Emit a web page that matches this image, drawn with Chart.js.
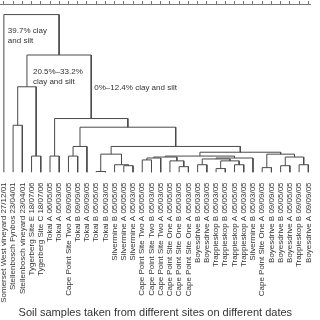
<!DOCTYPE html>
<html lang="en">
<head>
<meta charset="UTF-8">
<title>Soil sample dendrogram</title>
<script src="https://cdn.jsdelivr.net/npm/chart.js"></script>
<style>
  html, body { margin: 0; padding: 0; background: #fff; }
  #wrap { width: 320px; height: 320px; }
</style>
</head>
<body>
<div id="wrap"><canvas id="dendro"></canvas></div>
<script>
const leafLabels = [
  'Somerset West vineyard 27/12/01', 'Stellenbosch Fynbos 23/04/01', 'Stellenbosch vineyard 23/04/01',
  'Tygerberg Site E 18/07/06', 'Tygerberg Site C 18/07/06', 'Tokai A 06/05/05', 'Tokai A 05/03/05',
  'Cape Point Site Two A 09/09/05', 'Tokai B 09/09/05', 'Tokai A 09/09/05', 'Tokai B 05/05/05',
  'Tokai B 05/03/05', 'Silvermine B 05/05/05', 'Silvermine A 05/05/05', 'Silvermine A 05/03/05',
  'Cape Point Site Two A 05/05/05', 'Cape Point Site Two B 05/03/05', 'Cape Point Site Two A 05/03/05',
  'Cape Point Site One A 05/05/05', 'Cape Point Site One B 05/03/05', 'Cape Point Site One A 05/03/05',
  'Boyesdrive B 05/03/05', 'Boyesdrive A 05/03/05', 'Trappieskop B 05/03/05', 'Trappieskop B 05/05/05',
  'Trappieskop A 05/05/05', 'Trappieskop A 05/03/05', 'Silvermine B 05/03/05',
  'Cape Point Site One A 09/09/05', 'Boyesdrive B 09/09/05', 'Boyesdrive B 05/05/05',
  'Boyesdrive A 05/05/05', 'Trappieskop B 09/09/05', 'Boyesdrive A 09/09/05'
];

// [left, right, height]; leaves are 0..33, merge k becomes node 34 + k
const merges = [
  [10, 11, 0.2], [23, 24, 0.8], [28, 29, 1.0], [19, 20, 1.2], [13, 14, 1.4],
  [30, 31, 1.4], [12, 38, 1.6], [21, 22, 1.6], [25, 26, 1.6], [32, 33, 1.6],
  [18, 37, 2.4], [35, 42, 2.4], [15, 16, 2.6], [41, 45, 2.8], [46, 17, 3.0],
  [47, 27, 3.0], [48, 44, 3.2], [39, 43, 3.2], [3, 4, 3.4], [5, 6, 3.4],
  [7, 8, 3.4], [50, 49, 3.4], [34, 40, 3.8], [36, 51, 3.8], [55, 57, 4.2],
  [54, 9, 5.4], [56, 58, 5.4], [59, 60, 9.4], [1, 2, 9.8], [53, 61, 11.2],
  [62, 52, 17.8], [64, 63, 24.4], [0, 65, 32.8]
];

const noteRoot = ['39.7% clay', 'and silt'];
const noteMid = ['20.5%\u201333.2%', 'clay and silt'];
const noteLow = ['0%\u201312.4% clay and silt'];
const axisTitle = 'Soil samples taken from different sites on different dates';

const lineColor = '#4a4a4a';
const textColor = '#333';
const fontFamily = 'Liberation Sans, Arial, sans-serif';

// work out node positions from the linkage
const nodeX = leafLabels.map((_, i) => i);
const nodeY = leafLabels.map(() => 0);
const kids = [];
const links = merges.map(([a, b, h]) => {
  kids.push([a, b]);
  const pts = [
    { x: nodeX[a], y: nodeY[a] }, { x: nodeX[a], y: h },
    { x: nodeX[b], y: h }, { x: nodeX[b], y: nodeY[b] }
  ];
  nodeX.push((nodeX[a] + nodeX[b]) / 2);
  nodeY.push(h);
  return pts;
});

const datasets = links.map(pts => ({
  data: pts,
  showLine: true,
  borderColor: lineColor,
  borderWidth: 1,
  pointRadius: 0,
  pointHoverRadius: 0,
  tension: 0
}));

const leafTicks = scale => { scale.ticks = leafLabels.map((_, i) => ({ value: i })); };
const xMin = -0.42, xMax = 33.26;

const notes = {
  id: 'notes',
  afterDatasetsDraw(chart) {
    const { ctx, scales: { x, y } } = chart;
    const nLeaf = leafLabels.length;
    const root = nLeaf + merges.length - 1;
    const mid = kids[root - nLeaf][1];
    const place = (lines, node, side, dx, dy) => {
      const px = x.getPixelForValue(nodeX[kids[node - nLeaf][side]]) + dx;
      const py = y.getPixelForValue(nodeY[node]) + dy;
      lines.forEach((t, i) => ctx.fillText(t, px, py + i * 10));
    };
    ctx.save();
    ctx.fillStyle = textColor;
    ctx.font = '8px ' + fontFamily;
    ctx.textBaseline = 'middle';
    place(noteRoot, root, 0, 4, 16);
    place(noteMid, mid, 0, 6, 17);
    place(noteLow, mid, 1, 3, 33);
    ctx.restore();
  }
};

new Chart(document.getElementById('dendro'), {
  type: 'scatter',
  data: { datasets },
  options: {
    responsive: true,
    maintainAspectRatio: false,
    animation: false,
    layout: { padding: { top: 1, left: 0, right: 0, bottom: 0 } },
    plugins: { legend: { display: false }, tooltip: { enabled: false } },
    scales: {
      x: {
        type: 'linear',
        position: 'bottom',
        min: xMin,
        max: xMax,
        afterBuildTicks: leafTicks,
        grid: { display: false },
        border: { display: false },
        ticks: {
          autoSkip: false,
          maxRotation: 90,
          minRotation: 90,
          padding: 2,
          color: textColor,
          font: { size: 8, family: fontFamily },
          callback: v => leafLabels[v]
        },
        title: {
          display: true,
          text: axisTitle,
          color: textColor,
          font: { size: 11, family: fontFamily },
          padding: { top: 2, bottom: 0 }
        }
      },
      xTop: {
        type: 'linear',
        position: 'top',
        min: xMin,
        max: xMax,
        afterBuildTicks: leafTicks,
        grid: { drawOnChartArea: false, tickLength: 3, color: '#777' },
        border: { color: '#777', width: 1 },
        ticks: { display: false }
      },
      y: { min: 0, max: 35, display: false }
    }
  },
  plugins: [notes]
});
</script>
</body>
</html>
